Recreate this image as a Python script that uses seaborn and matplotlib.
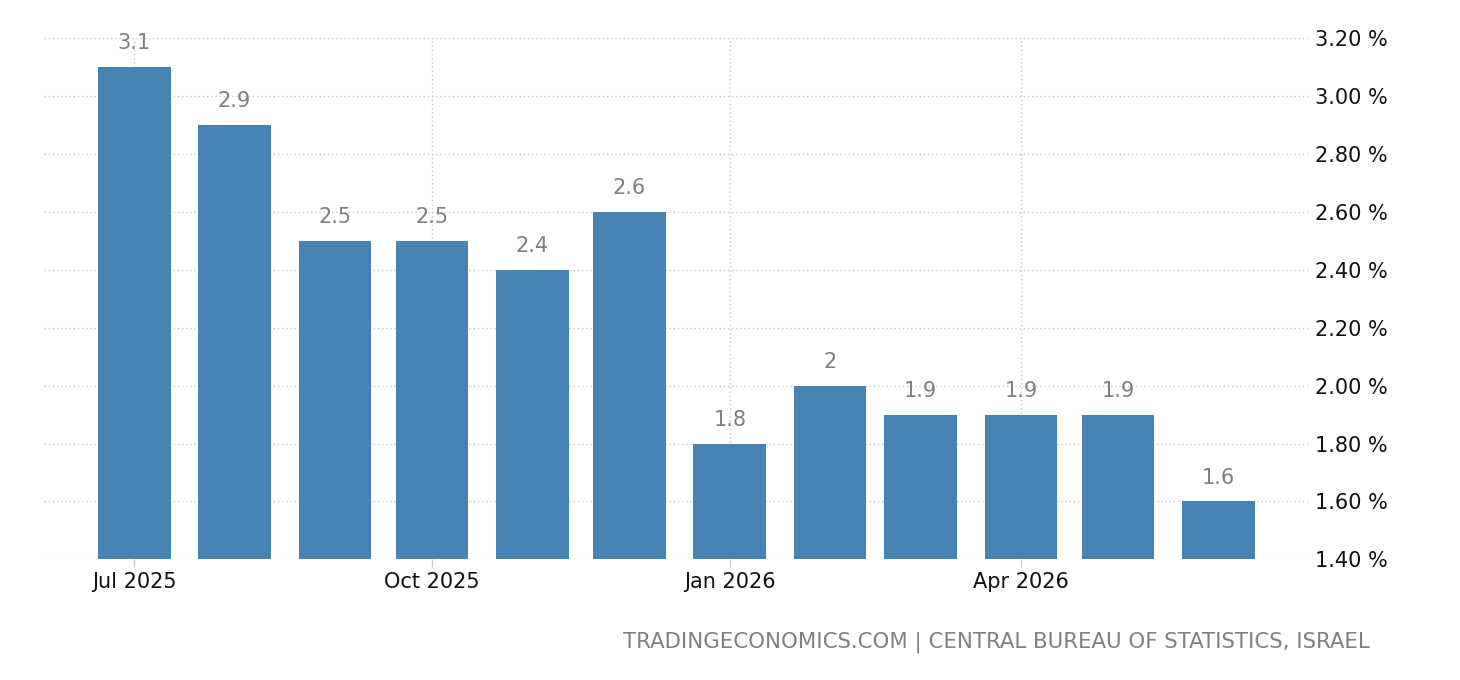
import matplotlib
matplotlib.use("Agg")
import matplotlib.pyplot as plt
import matplotlib.dates as mdates
import seaborn as sns
import pandas as pd
import numpy as np

# ---- data ----
months = ["2025-07-01", "2025-08-01", "2025-09-01", "2025-10-01", "2025-11-01", "2025-12-01",
          "2026-01-01", "2026-02-01", "2026-03-01", "2026-04-01", "2026-05-01", "2026-06-01"]
values = [3.1, 2.9, 2.5, 2.5, 2.4, 2.6, 1.8, 2.0, 1.9, 1.9, 1.9, 1.6]
xtick_dates = ["2025-07-01", "2025-10-01", "2026-01-01", "2026-04-01"]
ytick_values = [1.4, 1.6, 1.8, 2.0, 2.2, 2.4, 2.6, 2.8, 3.0, 3.2]
source_text = "TRADINGECONOMICS.COM | CENTRAL BUREAU OF STATISTICS, ISRAEL"

dates = pd.to_datetime(months)
df = pd.DataFrame({"x": mdates.date2num(dates), "value": values})

sns.set_theme(style="white")
plt.rcParams["font.family"] = ["DejaVu Sans"]

fig = plt.figure(figsize=(14.6, 6.8), dpi=100)
ax = fig.add_axes([44 / 1460, 1 - 559.3 / 680, (1308 - 44) / 1460, (559.3 - 38.3) / 680])

sns.barplot(data=df, x="x", y="value", native_scale=True, orient="x",
            color="#4682B4", saturation=1, width=0.8, ax=ax, zorder=2,
            linewidth=0, edgecolor="none")

grid_kw = dict(color="#c8c8c8", linestyle=(0, (1, 2)), linewidth=1)
ax.set_axisbelow(True)
ax.yaxis.grid(True, **grid_kw)
ax.xaxis.grid(True, **grid_kw)

ax.set_ylim(1.4, 3.2)
ax.set_yticks(ytick_values)
ax.set_yticklabels([f"{v:.2f} %" for v in ytick_values])
ax.yaxis.tick_right()
ax.tick_params(axis="y", length=0, pad=5, labelsize=15, labelcolor="#111111")

xmin = mdates.date2num(pd.Timestamp("2025-07-01")) - 27.9
xmax = mdates.date2num(pd.Timestamp("2025-07-01")) + 362.7
ax.set_xlim(xmin, xmax)
ax.set_xticks(mdates.date2num(pd.to_datetime(xtick_dates)))
ax.xaxis.set_major_formatter(mdates.DateFormatter("%b %Y"))
ax.tick_params(axis="x", length=6, width=1, color="#cccccc", pad=3,
               labelsize=15, labelcolor="#111111", bottom=True)

for s in ax.spines.values():
    s.set_visible(False)
ax.set_xlabel("")
ax.set_ylabel("")

ax.bar_label(ax.containers[0], labels=[f"{v:g}" for v in values],
             padding=10, color="#7f7f7f", fontsize=15)

fig.text(1370 / 1460, 1 - 642 / 680, source_text, ha="right", va="center",
         fontsize=15.3, color="#808080")

fig.savefig("out.png", dpi=100)
